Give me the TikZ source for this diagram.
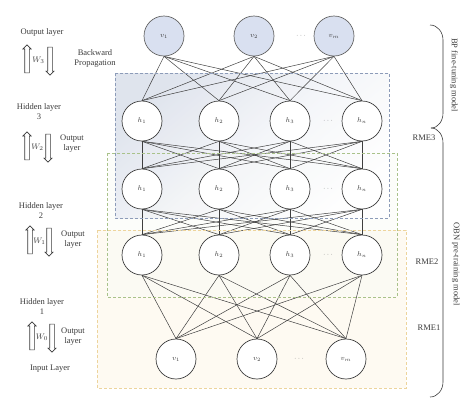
\documentclass[tikz,border=0pt]{standalone}
\usepackage{fontspec}
\setmainfont{Liberation Serif}
\usetikzlibrary{shapes.arrows}
\pgfdeclarelayer{background}
\pgfsetlayers{background,main}
\definecolor{txt}{HTML}{3A3A3A}
\definecolor{edgec}{HTML}{3F3F3F}
\definecolor{bluebox}{HTML}{8C9BB8}
\definecolor{greenbox}{HTML}{A9C28A}
\definecolor{yellowbox}{HTML}{EDD49C}
\definecolor{vfill}{HTML}{D9E0F0}
\definecolor{bluefill}{HTML}{DCE1EB}
\definecolor{yellowfill}{HTML}{FEFAF2}
\definecolor{greenfill}{HTML}{F9FBF5}
\begin{document}
\begin{tikzpicture}[x=1pt,y=1pt,
  font=\fontsize{8.5}{10}\selectfont,
  neuron/.style={circle, draw=edgec, line width=0.7pt, fill=white, minimum size=40pt, inner sep=0pt, font=\fontsize{7.5}{8}\selectfont, text=txt},
  vtop/.style={neuron, fill=vfill, draw=edgec!80},
  link/.style={draw=edgec, line width=0.5pt},
  lbl/.style={align=center, text=txt, inner sep=0pt},
  dots/.style={text=txt!70, font=\fontsize{7}{8}\selectfont},
  uparr/.style={single arrow, draw=txt, line width=0.6pt, fill=white, shape border rotate=90, minimum height=28pt, inner sep=2pt, single arrow head extend=1.8pt},
  downarr/.style={uparr, shape border rotate=270},
  boxline/.style={dash pattern=on 3pt off 2pt, line width=0.8pt},
  brace/.style={draw=txt, line width=0.6pt}]
\useasboundingbox (0,0) rectangle (474,-405);

% nodes
\node[vtop] (t1) at (164,-36) {$v_1$};
\node[vtop] (t2) at (254,-36) {$v_2$};
\node[vtop] (tm) at (334,-36) {$v_m$};
\node[dots] (tdots) at (301,-36) {$\cdots$};

\foreach \r/\y in {c/-121, d/-189, e/-255} {
  \node[neuron] (\r1) at (142,\y) {$h_1$};
  \node[neuron] (\r2) at (219,\y) {$h_2$};
  \node[neuron] (\r3) at (290,\y) {$h_3$};
  \node[neuron] (\r n) at (362,\y) {$h_n$};
  \node[dots] (\r dots) at (328,\y) {$\cdots$};
}

\node[neuron] (b1) at (176,-359) {$v_1$};
\node[neuron] (b2) at (257,-359) {$v_2$};
\node[neuron] (bm) at (346,-359) {$v_m$};
\node[dots] (bdots) at (299,-359) {$\cdots$};

\begin{pgfonlayer}{background}
% box fills
\fill[yellowfill] (97,-230) rectangle (406,-388);
\fill[greenfill, opacity=0.5] (107,-153) rectangle (397,-297);
\shade[shading=axis, top color=bluefill, bottom color=white, middle color=bluefill!35, shading angle=40, opacity=0.9] (115,-73) rectangle (389,-218);
% edges
\foreach \a in {t1,t2,tm} \foreach \b in {c1,c2,c3,cn} \draw[link] (\a.south) -- (\b.north);
\foreach \a in {c1,c2,c3,cn} \foreach \b in {d1,d2,d3,dn} \draw[link] (\a.south) -- (\b.north);
\foreach \a in {d1,d2,d3,dn} \foreach \b in {e1,e2,e3,en} \draw[link] (\a.south) -- (\b.north);
\foreach \a in {e1,e2,e3,en} \foreach \b in {b1,b2,bm} \draw[link] (\a.south) -- (\b.north);
\end{pgfonlayer}

% dashed outlines
\draw[boxline, yellowbox] (97,-230) rectangle (406,-388);
\draw[boxline, greenbox] (107,-153) rectangle (397,-297);
\draw[boxline, bluebox] (115,-73) rectangle (389,-218);

% right braces and labels
\draw[brace] (430,-25) to[out=0,in=90] (443,-40) -- (443,-113) to[out=-90,in=0] (431,-128);
\draw[brace] (431,-128) to[out=0,in=90] (443,-143) -- (443,-382) to[out=-90,in=0] (430,-397);
\node[lbl, rotate=-90] (bp) at (454,-75) {BP fine-tuning model};
\node[lbl, rotate=-90] (obn) at (456,-264) {OBN pre-training model};
\node[lbl] (rme3) at (424,-138) {RME3};
\node[lbl] (rme2) at (427,-262) {RME2};
\node[lbl] (rme1) at (429,-328) {RME1};

% left labels
\node[lbl] (out3) at (42,-32) {Output layer};
\node[lbl] (bprop) at (95,-58) {Backward\\Propagation};
\node[uparr] (u3) at (27,-60) {};
\node[downarr] (d3) at (50,-60) {};
\node[lbl] (w3) at (38.5,-60) {$W_3$};

\node[lbl] (hid3) at (39,-112) {Hidden layer\\3};
\node[uparr] (u2) at (27,-147) {};
\node[downarr] (d2) at (48,-147) {};
\node[lbl] (w2) at (37.5,-147) {$W_2$};
\node[lbl] (ol2) at (72,-144) {Output\\layer};

\node[lbl] (hid2) at (41,-211) {Hidden layer\\2};
\node[uparr] (u1) at (30,-241) {};
\node[downarr] (d1) at (49,-241) {};
\node[lbl] (w1) at (39.5,-241) {$W_1$};
\node[lbl] (ol1) at (73,-240) {Output\\layer};

\node[lbl] (hid1) at (42,-307) {Hidden layer\\1};
\node[uparr] (u0) at (32,-337) {};
\node[downarr] (d0) at (52,-337) {};
\node[lbl] (w0) at (42,-337) {$W_0$};
\node[lbl] (ol0) at (73,-337) {Output\\layer};
\node[lbl] (inl) at (50,-369) {Input Layer};
\end{tikzpicture}
\end{document}
